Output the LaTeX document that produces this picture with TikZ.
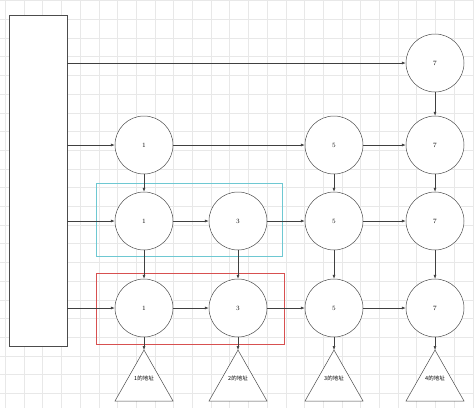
\documentclass[tikz,border=0pt]{standalone}
\usepackage{fontspec}
\newfontfamily\cjk{Noto Sans CJK SC}
\usetikzlibrary{arrows.meta,shapes.geometric}
\definecolor{gridc}{RGB}{232,232,232}
\definecolor{cyanbox}{RGB}{110,200,210}
\definecolor{redbox}{RGB}{215,80,80}
\begin{document}
\begin{tikzpicture}[x=1pt,y=-1pt,
  cnode/.style={circle,draw=black!70,fill=white,line width=0.5pt,minimum size=58pt,inner sep=0pt,font=\fontsize{6.5}{7}\selectfont},
  arr/.style={draw=black!75,line width=0.5pt,-{Latex[length=4pt,width=3pt]}},
  tlabel/.style={font=\cjk\fontsize{5.5}{6}\selectfont,inner sep=0pt}]
\useasboundingbox (0,0) rectangle (474,408);
\fill[white] (0,0) rectangle (474,408);
% grid
\foreach \i in {0,...,25} {
  \draw[gridc,line width=0.4pt] (5.2+18.7*\i,0) -- (5.2+18.7*\i,408);
}
\foreach \j in {0,...,22} {
  \draw[gridc,line width=0.4pt] (0,0.5+18.7*\j) -- (474,0.5+18.7*\j);
}
% highlight boxes
\node[draw=cyanbox,line width=0.6pt,minimum width=186pt,minimum height=73pt,inner sep=0pt] (cbox) at (189,219.5) {};
\node[draw=redbox,line width=0.6pt,minimum width=188pt,minimum height=71pt,inner sep=0pt] (rbox) at (190,308.5) {};
% head rectangle
\node[draw=black!70,fill=white,line width=0.5pt,minimum width=58pt,minimum height=331pt,inner sep=0pt] (head) at (38,180.5) {};
\coordinate (h1) at (67,63);
\coordinate (h2) at (67,145);
\coordinate (h3) at (67,221);
\coordinate (h4) at (67,308);
% circles
\node[cnode] (a7) at (435,63) {7};
\node[cnode] (b1) at (144,145) {1};
\node[cnode] (b5) at (334,145) {5};
\node[cnode] (b7) at (435,145) {7};
\node[cnode] (c1) at (144,221) {1};
\node[cnode] (c3) at (238,221) {3};
\node[cnode] (c5) at (334,221) {5};
\node[cnode] (c7) at (435,221) {7};
\node[cnode] (d1) at (144,308) {1};
\node[cnode] (d3) at (238,308) {3};
\node[cnode] (d5) at (334,308) {5};
\node[cnode] (d7) at (435,308) {7};
% triangles
\foreach \n/\x/\t in {t1/144/1,t2/238/2,t3/334/3,t4/435/4} {
  \draw[black!70,fill=white,line width=0.5pt] (\x,350) -- (\x+29,401) -- (\x-29,401) -- cycle;
  \coordinate (\n) at (\x,350);
  \node[tlabel] at (\x,378) {\t 的地址};
}
% arrows from head
\draw[arr] (h1) -- (a7);
\draw[arr] (h2) -- (b1);
\draw[arr] (h3) -- (c1);
\draw[arr] (h4) -- (d1);
% horizontal
\draw[arr] (b1) -- (b5);
\draw[arr] (b5) -- (b7);
\draw[arr] (c1) -- (c3);
\draw[arr] (c3) -- (c5);
\draw[arr] (c5) -- (c7);
\draw[arr] (d1) -- (d3);
\draw[arr] (d3) -- (d5);
\draw[arr] (d5) -- (d7);
% vertical
\draw[arr] (a7) -- (b7);
\draw[arr] (b1) -- (c1);
\draw[arr] (b5) -- (c5);
\draw[arr] (b7) -- (c7);
\draw[arr] (c1) -- (d1);
\draw[arr] (c3) -- (d3);
\draw[arr] (c5) -- (d5);
\draw[arr] (c7) -- (d7);
\draw[arr] (d1) -- (t1);
\draw[arr] (d3) -- (t2);
\draw[arr] (d5) -- (t3);
\draw[arr] (d7) -- (t4);
\end{tikzpicture}
\end{document}
